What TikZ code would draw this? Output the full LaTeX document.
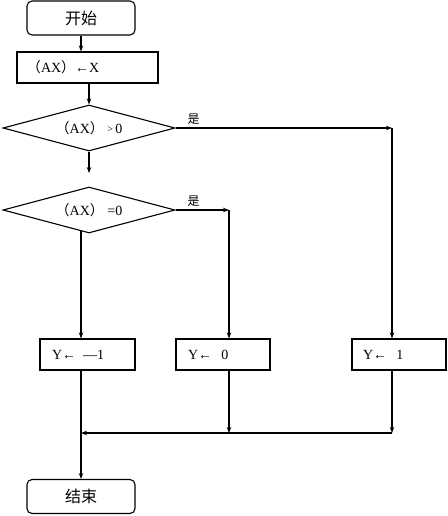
\documentclass[tikz,border=0pt]{standalone}
\usepackage{fontspec}
\setmainfont{Liberation Serif}
\newfontfamily\cjk{Noto Sans CJK SC}
\usetikzlibrary{shapes.geometric,arrows.meta,calc}
\newcommand{\lpar}{{\cjk （}}
\newcommand{\rpar}{{\cjk ）}}
\begin{document}
\begin{tikzpicture}[x=1pt,y=-1pt, line width=1.1pt, font=\fontsize{14}{16}\selectfont,
  arr/.style={-{Stealth[length=6pt,width=4.5pt]}},
  term/.style={draw, rounded corners=5pt, minimum width=108pt, minimum height=34pt, inner sep=0pt, font=\cjk\fontsize{16}{18}\selectfont},
  proc/.style={draw, minimum height=31pt, inner ysep=0pt, align=left},
  dec/.style={draw, diamond, aspect=3.7, minimum width=172pt, minimum height=46pt, inner sep=0pt},
  lab/.style={font=\cjk\fontsize{12}{14}\selectfont, inner sep=0pt}]
\useasboundingbox (0,0) rectangle (447,516);
\node[term] (start) at (81,18) {开始};
\node[proc, minimum width=141pt, text width=121pt, inner xsep=10pt] (b1) at (87.5,67.5) {\lpar AX\rpar ←X};
\node[dec] (d1) at (89,128) {\lpar AX\rpar\ \raisebox{0.5pt}{\fontsize{10}{12}\selectfont >}\,0};
\node[dec] (d2) at (89,210) {\lpar AX\rpar\ =0};
\node[proc, minimum width=95pt, text width=71pt, inner xsep=12pt] (m1) at (87.5,354.5) {Y← \,—1};
\node[proc, minimum width=94pt, text width=70pt, inner xsep=12pt] (m0) at (223,354.5) {Y← \ 0};
\node[proc, minimum width=94pt, text width=72pt, inner xsep=11pt] (m2) at (399,354.5) {Y← \ 1};
\node[term] (end) at (81,496.5) {结束};
\node[lab, anchor=south west] (y1) at (187,125) {是};
\node[lab, anchor=south west] (y2) at (187,207) {是};
\coordinate (a1) at (89,173);
\coordinate (c1) at (392,128);
\coordinate (c2) at (229,210);
\coordinate (d2b) at (81,231);
\coordinate (j) at (81,433);
\coordinate (j0) at (229,433);
\coordinate (j2) at (392,433);
\draw[arr] (start.south) -- (start.south |- b1.north);
\draw[arr] (d1.north |- b1.south) -- (d1.north);
\draw[arr] (d1.south) -- (a1);
\draw[arr] (d1.east) -- (c1);
\draw[arr] (c1) -- (c1 |- m2.north);
\draw[arr] (d2.east) -- (c2);
\draw[arr] (c2) -- (c2 |- m0.north);
\draw[arr] (d2b) -- (d2b |- m1.north);
\draw[arr] (j0 |- m0.south) -- (j0);
\draw[arr] (j2 |- m2.south) -- (j2);
\draw[arr] (j2) -- (j);
\draw[arr] (j |- m1.south) -- (end.north);
\end{tikzpicture}
\end{document}
